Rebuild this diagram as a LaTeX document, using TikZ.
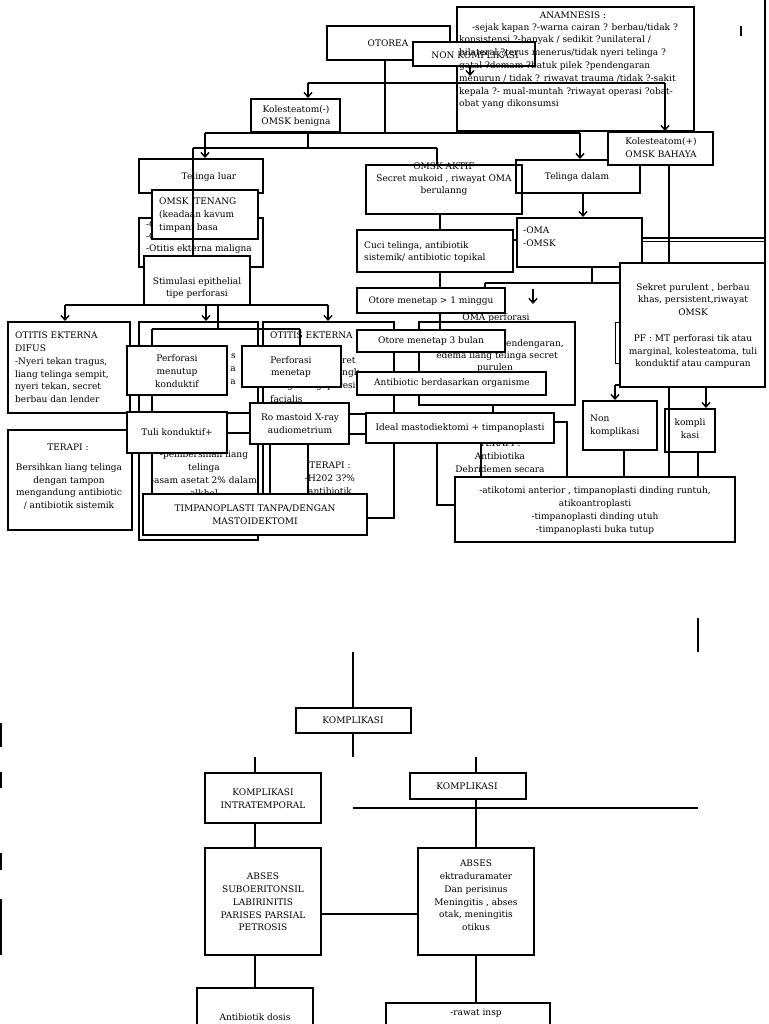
\documentclass[tikz,border=0pt]{standalone}
\usepackage{fontspec}
\setmainfont{DejaVu Serif}
\usetikzlibrary{arrows.meta}
\newcommand\mkbox[6][]{\node[bx,#1,minimum width={#5-#3},minimum height={#6-#4}] (#2) at (#3,#4) {};}
\begin{document}
\begin{tikzpicture}[x=1pt,y=-1pt,
  bx/.style={draw, line width=1.6pt, fill=white, inner sep=0pt, outer sep=0pt, anchor=north west},
  ln/.style={line width=1.6pt},
  thk/.style={line width=2.2pt},
  ar/.style={line width=1.6pt, -{Straight Barb[length=4.5pt,width=8pt,line width=1.4pt]}},
  tx/.style={inner sep=0pt, align=center, font=\fontsize{9}{12.8}\selectfont},
  txl/.style={tx, align=left, anchor=west},
  txw/.style={tx, anchor=west},
  txe/.style={tx, anchor=east}]
\fill[white] (0,0) rectangle (768,1024);
\useasboundingbox (0,0) rectangle (768,1024);

% ---------- layer 1: back boxes ----------
\mkbox{boxA}{139}{322}{258}{540}
\mkbox{boxC}{263}{322}{394}{518}
\mkbox{hid}{139}{218}{263}{267}
\mkbox{tluar}{139}{159}{263}{193}
\mkbox[fill=none]{aktif}{366}{165}{522}{214}
\mkbox[fill=none]{tdalam}{516}{160}{640}{193}
\mkbox{oma}{517}{218}{642}{267}
\mkbox{cuci}{357}{230}{513}{272}
\mkbox{terapiB}{437}{422}{567}{505}
\mkbox{omaperf}{419}{322}{575}{405}
\mkbox[line width=0.8pt]{behind}{615}{322}{640}{363}

% ---------- layer 2: texts of back boxes ----------
\node[txe] (boxA-f1) at (236,356) {s};
\node[txe] (boxA-f2) at (236,369) {a};
\node[txe] (boxA-f3) at (236,382) {a};
\node[tx] (boxA-t2) at (204,473.5) {-pembersihan liang\\telinga\\-asam asetat 2\% dalam\\alkhol};
\node[txw] (boxC-t1) at (270,335) {OTITIS EKTERNA};
\node[txw] (boxC-f1) at (342,361) {ret};
\node[txw] (boxC-f2) at (342,373) {ngk};
\node[txw] (boxC-f3) at (270,386) {liang telingaperesi};
\node[txw] (boxC-f4) at (270,399) {facialis};
\node[tx] (boxC-t2) at (330,478) {TERAPI :\\-H202 3?\%\\antibiotik};
\node[txw] (hid-f1) at (146,224) {-O};
\node[txw] (hid-f2) at (146,236) {-O};
\node[txw] (hid-t) at (146,249) {-Otitis ekterna maligna};
\node[tx] (tluar-t) at (209,177) {Telinga luar};
\node[tx] (aktif-t0) at (444,166) {OMSK AKTIF};
\node[tx] (aktif-t) at (444,185) {Secret mukoid , riwayat OMA\\berulanng};
\node[tx] (tdalam-t) at (577,177) {Telinga dalam};
\node[txl] (oma-t) at (523,237) {-OMA\\-OMSK};
\node[txl] (cuci-t) at (364,252) {Cuci telinga, antibiotik\\sistemik/ antibiotic topikal};
\node[tx] (terapiB-t) at (500,456.5) {TERAPI :\\Antibiotika\\Debridemen secara};
\node[tx] (omaperf-t0) at (496,318) {OMA perforasi};
\node[txw] (omaperf-f1) at (506,344) {endengaran,};
\node[tx] (omaperf-t1) at (497,356) {edema liang telinga secret};
\node[tx] (omaperf-t2) at (495,368.5) {purulen};

% ---------- layer 3: connectors under front boxes ----------
\draw[ln] (669,165) -- (669,477);
\draw[ln] (592,267) -- (592,283);
\draw[ln] (485,283) -- (620,283);
\draw[ln] (485,283) -- (485,300);
\draw[ln] (218,305) -- (218,329);
\draw[ln] (152,329) -- (300,329);
\draw[ln] (152,329) -- (152,494);
\draw[ln] (300,329) -- (300,346);
\draw[ln] (65,305) -- (328,305);
\draw[ar] (65,305) -- (65,321);
\draw[ar] (206,305) -- (206,321);
\draw[ar] (328,305) -- (328,321);
\draw[ln] (270,444) -- (270,494);
\draw[ln] (308,444) -- (308,494);
\draw[ln] (227,413) -- (250,413);
\draw[ln] (227,433) -- (250,433);
\draw[ln] (349,414) -- (366,414);
\draw[ln] (349,434) -- (366,434);
\draw[ln] (440,214) -- (440,230);
\draw[ln] (440,272) -- (440,288);
\draw[ln] (440,313) -- (440,330);
\draw[ln] (513,240) -- (517,240);
\draw[ln] (493,405) -- (493,413);
\draw[ln] (481,443) -- (481,477);
\draw[ln] (642,238) -- (765,238);
\draw[ln] (642,241.5) -- (765,241.5);
\draw[ar] (583,193) -- (583,217);
\draw[ar] (533,289) -- (533,304);
\draw[ln] (620,385) -- (615,385);
\draw[ar] (615,385) -- (615,400);
\draw[ar] (706,387) -- (706,408);
\draw[ln] (624,450) -- (624,477);
\draw[ln] (698,452) -- (698,477);
\draw[ln] (765,0) -- (765,263);

% ---------- layer 4: front boxes ----------
\mkbox{tenang}{152}{190}{258}{239}
\mkbox{stim}{144}{256}{250}{305}
\mkbox{difus}{8}{322}{130}{413}
\mkbox{terapiA}{8}{430}{132}{530}
\mkbox{pmenutup}{127}{346}{227}{395}
\mkbox{pmenetap}{242}{346}{341}{387}
\mkbox{tuli}{127}{412}{227}{453}
\mkbox{romas}{250}{403}{349}{444}
\mkbox{timpano}{143}{494}{367}{535}
\mkbox{otore1}{357}{288}{505}{313}
\mkbox{otore3}{357}{330}{505}{352}
\mkbox{antib}{357}{372}{546}{395}
\mkbox{ideal}{366}{413}{554}{443}
\mkbox{sekret}{620}{263}{765}{387}
\mkbox{nonkom}{583}{401}{657}{450}
\mkbox[fill=none]{kompli}{665}{409}{715}{452}
\mkbox{atiko}{455}{477}{735}{542}

\node[txl] (tenang-t) at (159,215) {OMSK\ \ TENANG\\(keadaan kavum\\timpani basa};
\node[tx] (stim-t) at (197,288) {Stimulasi epithelial\\tipe perforasi};
\node[txl] (difus-t) at (15,367.5) {OTITIS EKTERNA\\DIFUS\\-Nyeri tekan tragus,\\liang telinga sempit,\\nyeri tekan, secret\\berbau dan lender};
\node[tx] (terapiA-t0) at (68,447) {TERAPI :};
\node[tx] (terapiA-t) at (69,486.5) {Bersihkan liang telinga\\dengan tampon\\mengandung antibiotic\\/ antibiotik sistemik};
\node[tx] (pmenutup-t) at (177,371) {Perforasi\\menutup\\konduktif};
\node[tx] (pmenetap-t) at (291,367) {Perforasi\\menetap};
\node[tx] (tuli-t) at (177,432) {Tuli konduktif+};
\node[tx] (romas-t) at (300,424) {Ro mastoid X-ray\\audiometrium};
\node[tx] (timpano-t) at (255,515) {TIMPANOPLASTI TANPA/DENGAN\\MASTOIDEKTOMI};
\node[tx] (otore1-t) at (431,301) {Otore menetap > 1 minggu};
\node[tx] (otore3-t) at (431,341) {Otore menetap 3 bulan};
\node[tx] (antib-t) at (452,383.5) {Antibiotic berdasarkan organisme};
\node[tx] (ideal-t) at (460,428) {Ideal mastodiektomi + timpanoplasti};
\node[tx] (sekret-t) at (693,326) {Sekret purulent , berbau\\khas, persistent,riwayat\\OMSK\\[12.8pt]PF : MT perforasi tik atau\\marginal, kolesteatoma, tuli\\konduktif atau campuran};
\node[txl] (nonkom-t) at (590,426) {Non\\komplikasi};
\node[tx] (kompli-t) at (690,429) {kompli\\kasi};
\node[tx] (atiko-t) at (595,510.5) {-atikotomi anterior , timpanoplasti dinding runtuh,\\atikoantroplasti\\-timpanoplasti dinding utuh\\-timpanoplasti buka tutup};

% ---------- layer 5: top ----------
\mkbox{otorea}{327}{26}{450}{60}
\node[tx] (otorea-t) at (388,43) {OTOREA};
\mkbox{anam}{457}{7}{694}{131}
\mkbox{nonk}{413}{42}{535}{66}
\node[tx] (nonk-t) at (475,55) {NON KOMPLIKASI};
\node[tx] (anam-t0) at (573,15) {ANAMNESIS :};
\node[tx] (anam-t1) at (575,28) {-sejak kapan ?-warna cairan ? berbau/tidak ?};
\node[txl] (anam-t2) at (459,72.5) {konsistensi ?-banyak / sedikit ?unilateral /\\bilateral ?terus menerus/tidak nyeri telinga ?\\gatal ?demam ?batuk pilek ?pendengaran\\menurun / tidak ? riwayat trauma /tidak ?-sakit\\kepala ?- mual-muntah ?riwayat operasi ?obat-\\obat yang dikonsumsi};
\mkbox{kolneg}{251}{99}{340}{132}
\node[tx] (kolneg-t) at (296,116) {Kolesteatom(-)\\OMSK benigna};
\mkbox{kolpos}{608}{132}{713}{165}
\node[tx] (kolpos-t) at (661,148) {Kolesteatom(+)\\OMSK BAHAYA};
\draw[thk] (741,26) -- (741,36);

\draw[ln] (385,60) -- (385,133);
\draw[ln] (205,133) -- (580,133);
\draw[ar] (205,133) -- (205,158);
\draw[ar] (580,133) -- (580,159);
\draw[ln] (308,83) -- (665,83);
\draw[ar] (308,83) -- (308,98);
\draw[ar] (665,83) -- (665,131);
\draw[ar] (470,66) -- (470,76);
\draw[ln] (308,132) -- (308,148);
\draw[ln] (193,148) -- (437,148);
\draw[ln] (437,148) -- (437,165);
\draw[ln] (193,148) -- (193,256);

% ---------- bottom section ----------
\draw[thk] (698,618) -- (698,652);
\mkbox{komp}{296}{708}{411}{733}
\node[tx] (komp-t) at (353,720.5) {KOMPLIKASI};
\draw[ln] (353,652) -- (353,708);
\draw[ln] (353,733) -- (353,757);
\draw[ln] (255,757) -- (255,773);
\draw[ln] (476,757) -- (476,773);
\mkbox{intra}{205}{773}{321}{823}
\node[tx] (intra-t) at (263,799) {KOMPLIKASI\\INTRATEMPORAL};
\mkbox{kompr}{410}{773}{526}{799}
\node[tx] (kompr-t) at (467,786) {KOMPLIKASI};
\draw[thk] (353,808) -- (698,808);
\draw[ln] (476,799) -- (476,848);
\draw[ln] (255,823) -- (255,848);
\mkbox{absesL}{205}{848}{321}{955}
\node[tx] (absesL-t) at (263,902) {ABSES\\SUBOERITONSIL\\LABIRINITIS\\PARISES PARSIAL\\PETROSIS};
\mkbox{absesR}{418}{848}{534}{955}
\node[tx] (absesR-t) at (476,895.5) {ABSES\\ektraduramater\\Dan perisinus\\Meningitis , abses\\otak, meningitis\\otikus};
\draw[ln] (absesL.east |- 0,914) -- (absesR.west |- 0,914);
\draw[ln] (255,955) -- (255,988);
\draw[ln] (476,955) -- (476,1003);
\mkbox{antiL}{197}{988}{313}{1040}
\node[tx] (antiL-t) at (255,1017) {Antibiotik dosis};
\mkbox{rawat}{386}{1003}{550}{1040}
\node[tx] (rawat-t) at (476,1013) {-rawat insp};
\draw[thk] (1,723) -- (1,747);
\draw[thk] (1,772) -- (1,788);
\draw[thk] (1,853) -- (1,870);
\draw[thk] (1,899) -- (1,955);
\end{tikzpicture}
\end{document}
